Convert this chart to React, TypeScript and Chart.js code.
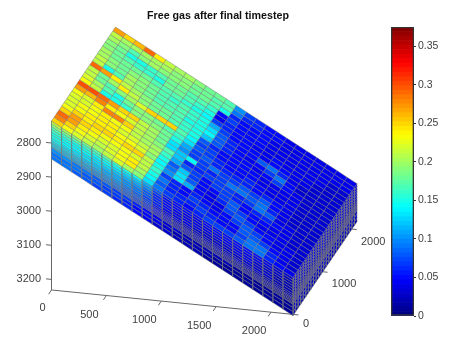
import React, { useEffect, useRef } from "react";
import { Chart, registerables } from "chart.js";

Chart.register(...registerables);

const titleText = "Free gas after final timestep";
const xTicks = [0, 500, 1000, 1500, 2000];
const yTicks = [0, 1000, 2000];
const zTicks = [2800, 2900, 3000, 3100, 3200];
const cbTickStep = 0.05;
const cbMax = 0.375;
const FONT = "'Liberation Sans', Arial, sans-serif";
const TEXT = "#404040";

const xMax = 2200;
const yMax = 2200;
const zTop = 2735.5;
const zFloor = 3231;
const dip = 0.1762;

// below-top depth of each layer boundary (m)
const layerDepths = [0, 8, 16, 24, 32, 40, 48, 54, 59, 63, 67, 71, 75, 78, 88, 100, 111.5];

// top surface, row 0 is y = 2200 (back), row 24 is y = 0 (front); in hundredths of saturation
const topSurface = [
  [27,25,26,29,24,21,20,20,19,18,18,17,10,7,6,5,5,4,4,4,4,4,4,4],
  [21,20,20,20,20,20,19,19,18,18,17,17,9,6,6,5,5,4,4,4,4,4,4,4],
  [20,19,17,19,20,19,19,19,18,18,17,15,6,5,5,5,4,4,4,4,4,4,4,4],
  [19,18,15,15,16,17,18,18,17,17,16,5,7,5,5,5,4,4,4,4,4,4,3,3],
  [19,18,17,16,16,15,18,18,17,16,15,4,6,5,5,5,4,4,4,4,4,4,3,3],
  [20,18,18,18,18,17,17,17,16,15,14,7,6,5,5,4,4,5,4,4,4,3,3,3],
  [20,19,18,19,19,18,17,16,17,16,15,11,7,5,5,5,4,5,5,4,4,3,3,3],
  [21,19,18,20,19,18,17,17,17,16,15,13,8,6,5,5,8,9,6,4,3,3,3,3],
  [21,15,17,20,19,18,17,17,17,15,15,14,8,6,5,4,5,7,9,5,3,3,3,3],
  [29,27,24,21,20,19,18,18,17,16,15,12,8,6,5,5,4,5,7,5,4,3,3,3],
  [21,18,20,24,21,19,18,18,17,16,15,8,6,5,5,5,5,4,4,4,4,3,3,3],
  [21,18,17,19,20,22,25,25,25,17,14,7,7,5,5,5,5,4,4,4,4,3,3,3],
  [22,20,17,15,18,19,19,18,17,16,13,8,7,6,5,5,6,5,4,4,4,3,3,3],
  [23,21,15,15,16,19,19,19,18,15,11,7,8,6,6,6,6,5,6,5,4,3,3,3],
  [30,30,29,27,25,25,21,20,18,13,10,7,7,9,7,7,8,7,8,5,4,3,3,3],
  [27,26,28,24,23,22,21,20,18,13,12,14,7,6,7,9,9,8,9,6,4,3,3,3],
  [23,22,24,28,28,25,21,20,19,17,12,6,6,7,7,7,6,7,9,8,4,4,3,3],
  [22,22,23,24,23,23,21,20,20,16,11,8,7,5,7,7,6,5,6,6,5,4,3,3],
  [22,23,23,24,24,22,22,21,20,15,8,12,7,5,5,7,8,5,5,5,4,4,3,3],
  [22,23,24,24,24,23,23,22,19,14,9,13,8,5,4,6,8,7,5,4,4,4,3,3],
  [23,25,24,25,25,24,25,25,21,15,10,13,11,5,4,4,7,8,7,5,5,4,4,3],
  [25,27,25,24,23,23,23,22,21,16,7,6,5,6,5,4,5,7,8,7,5,4,4,3],
  [29,27,24,23,22,22,23,24,21,15,9,6,5,7,6,5,5,5,8,8,7,5,4,3],
  [28,25,23,22,21,22,23,24,20,14,8,6,6,6,7,6,5,5,7,9,9,6,4,3],
  [25,23,22,21,20,21,22,20,19,13,9,7,6,5,6,7,7,7,8,9,9,6,5,4],
];

// front face (y = 0), one row per layer from the top
const frontFace = [
  [21,20,19,18,17,17,16,15,14,11,8,6,5,5,5,5,5,5,5,5,5,4,3,3],
  [19,18,17,16,16,15,14,13,12,10,7,5,5,5,4,5,5,5,5,5,4,4,3,2],
  [17,16,15,15,14,14,13,12,11,9,6,5,5,4,4,4,4,4,4,4,4,3,3,2],
  [16,15,14,14,13,13,12,11,10,8,6,5,4,4,4,4,4,4,4,4,3,3,2,2],
  [15,14,14,13,13,12,11,10,9,8,6,5,4,4,4,3,3,3,4,4,3,3,2,2],
  [15,14,13,13,12,11,11,10,9,7,6,4,4,4,3,3,3,3,3,3,3,3,2,2],
  [14,13,13,12,12,11,10,9,8,7,5,4,4,3,3,3,3,3,3,3,3,2,2,2],
  [14,13,12,12,11,10,10,9,8,7,5,4,3,3,3,3,3,3,3,3,2,2,2,2],
  [13,13,12,11,11,10,9,8,8,6,5,4,3,3,3,3,3,3,3,2,2,2,2,2],
  [13,12,12,11,10,10,9,8,7,6,5,4,3,3,3,3,3,2,2,2,2,2,2,1],
  [13,12,11,11,10,9,9,8,7,6,5,4,3,3,3,2,2,2,2,2,2,2,1,1],
  [12,12,11,10,10,9,8,8,7,6,4,4,3,3,2,2,2,2,2,2,2,1,1,1],
  [11,11,10,10,9,9,8,7,6,5,4,3,3,2,2,2,2,2,2,2,1,1,1,1],
  [10,10,9,9,8,8,7,7,6,5,4,3,3,2,2,2,2,2,1,1,1,1,1,1],
  [9,9,9,8,8,7,7,6,5,5,4,3,2,2,2,2,1,1,1,1,1,1,1,1],
  [9,9,8,8,7,7,6,6,5,4,3,3,2,2,2,1,1,1,1,1,1,1,1,1],
];

// right face (x = 2200), one value per layer
const rightFace = [4,4,4,4,4,3,3,3,3,3,3,3,3,3,3,2];

const jet = (v: number) => {
  const t = Math.min(1, Math.max(0, v / cbMax));
  const c = (a: number) => Math.round(255 * Math.min(1, Math.max(0, 1.5 - Math.abs(4 * t - a))));
  return `rgb(${c(3)},${c(2)},${c(1)})`;
};

// oblique projection of (x, y, z) onto the drawing plane
const project = (x: number, y: number, z: number) => ({
  x: 51.5 + 0.10977 * x + 0.0291 * y,
  y: 143 + 0.341 * (z - 2800) + 0.0111 * x - 0.0427 * y,
});

const edgeX = (i: number) => (i * xMax) / topSurface[0].length;
const edgeY = (j: number) => yMax - (j * yMax) / topSurface.length;
const surf = (x: number) => zTop + dip * x;

const poly = (pts: any[], value: number) => ({
  data: [...pts, pts[0]],
  showLine: true,
  fill: "shape",
  backgroundColor: jet(value / 100),
  borderColor: "rgba(120,120,120,0.8)",
  borderWidth: 0.6,
  pointRadius: 0,
  tension: 0,
  clip: false,
});

const stroke = (pts: any[]) => ({
  data: pts,
  showLine: true,
  fill: false,
  borderColor: "#666666",
  borderWidth: 1,
  pointRadius: 0,
  tension: 0,
  clip: false,
});

const buildDatasets = () => {
  const out: any[] = [];
  topSurface.forEach((row, j) =>
    row.forEach((v, i) => {
      const x0 = edgeX(i), x1 = edgeX(i + 1), y0 = edgeY(j), y1 = edgeY(j + 1);
      out.push(poly([project(x0, y0, surf(x0)), project(x1, y0, surf(x1)), project(x1, y1, surf(x1)), project(x0, y1, surf(x0))], v));
    })
  );
  frontFace.forEach((row, k) =>
    row.forEach((v, i) => {
      const x0 = edgeX(i), x1 = edgeX(i + 1), d0 = layerDepths[k], d1 = layerDepths[k + 1];
      out.push(poly([project(x0, 0, surf(x0) + d0), project(x1, 0, surf(x1) + d0), project(x1, 0, surf(x1) + d1), project(x0, 0, surf(x0) + d1)], v));
    })
  );
  rightFace.forEach((v, k) => {
    topSurface.forEach((_, j) => {
      const y0 = edgeY(j), y1 = edgeY(j + 1), s = surf(xMax), d0 = layerDepths[k], d1 = layerDepths[k + 1];
      out.push(poly([project(xMax, y0, s + d0), project(xMax, y1, s + d0), project(xMax, y1, s + d1), project(xMax, y0, s + d1)], v));
    });
  });
  // axes go last so that they are painted underneath the block
  out.push(stroke([project(0, 0, zFloor), project(xMax, 0, zFloor)]));
  out.push(stroke([project(0, 0, zFloor), project(0, 0, zTop)]));
  xTicks.forEach((t) => out.push(stroke([project(t, 0, zFloor), project(t, -100, zFloor)])));
  yTicks.forEach((t) => out.push(stroke([project(xMax, t, zFloor), project(xMax + 50, t, zFloor)])));
  zTicks.forEach((t) => out.push(stroke([project(0, 0, t), project(-50, 0, t)])));
  return out;
};

const tickText = {
  id: "tickText",
  afterDraw(chart: any) {
    const { ctx, scales } = chart;
    const at = (p: any) => [scales.x.getPixelForValue(p.x), scales.y.getPixelForValue(p.y)];
    ctx.save();
    ctx.font = `11px ${FONT}`;
    ctx.fillStyle = TEXT;
    ctx.textBaseline = "middle";
    ctx.textAlign = "center";
    xTicks.forEach((t) => {
      const [px, py] = at(project(t, 0, zFloor));
      ctx.fillText(String(t), px - (t === 0 ? 9 : 17), py + (t === 0 ? 18 : 19));
    });
    yTicks.forEach((t) => {
      const [px, py] = at(project(xMax, t, zFloor));
      ctx.fillText(String(t), px + (t === 0 ? 13 : 22), py + (t === 0 ? 10 : 12.5));
    });
    ctx.textAlign = "right";
    zTicks.forEach((t) => {
      const [px, py] = at(project(0, 0, t));
      ctx.fillText(String(t), px - 10.5, py);
    });
    ctx.restore();
  },
};

export default function App() {
  const blockRef = useRef<HTMLCanvasElement>(null);
  const barRef = useRef<HTMLCanvasElement>(null);

  useEffect(() => {
    const block = new Chart(blockRef.current as any, {
      type: "scatter",
      data: { datasets: buildDatasets() },
      plugins: [tickText],
      options: {
        responsive: false,
        animation: false,
        events: [],
        parsing: false,
        layout: { padding: { left: 46, right: 0, top: 0, bottom: 0 } },
        plugins: {
          legend: { display: false },
          tooltip: { enabled: false },
          title: {
            display: true,
            text: titleText,
            color: "#111111",
            font: { family: FONT, size: 10.7, weight: "bold" },
            padding: { top: 10, bottom: 3.16 },
          },
        },
        scales: {
          x: { type: "linear", display: false, min: 46, max: 390 },
          y: { type: "linear", display: false, min: 26, max: 355, reverse: true },
        },
      } as any,
    } as any);

    const levels = Array.from({ length: 64 }, (_, i) => i);
    const barSets: any[] = levels.map((i) => ({
      data: [[(i * cbMax) / 64, ((i + 1) * cbMax) / 64]],
      backgroundColor: jet(((i + 0.5) * cbMax) / 64),
      borderWidth: 0,
      grouped: false,
      barPercentage: 1,
      categoryPercentage: 1,
      order: 2,
    }));
    barSets.push({
      data: [[0, cbMax]],
      backgroundColor: "rgba(0,0,0,0)",
      borderColor: "#333333",
      borderWidth: 1,
      grouped: false,
      barPercentage: 1,
      categoryPercentage: 1,
      borderSkipped: false,
      order: 1,
    });
    const bar = new Chart(barRef.current as any, {
      type: "bar",
      data: { labels: [""], datasets: barSets },
      options: {
        responsive: false,
        animation: false,
        events: [],
        layout: { padding: { left: 6, right: 0, top: 27, bottom: 39 } },
        plugins: { legend: { display: false }, tooltip: { enabled: false } },
        scales: {
          x: { display: false },
          y: {
            position: "right",
            min: 0,
            max: cbMax,
            afterFit: (s: any) => {
              s.width = 60;
            },
            border: { display: false },
            grid: { drawOnChartArea: false, tickLength: 2, tickColor: "#333333" },
            ticks: {
              stepSize: cbTickStep,
              includeBounds: false,
              padding: 2,
              color: TEXT,
              font: { family: FONT, size: 10.5 },
              callback: (v: any) => String(Math.round(v * 100) / 100),
            },
          },
        },
      } as any,
    } as any);

    return () => {
      block.destroy();
      bar.destroy();
    };
  }, []);

  return (
    <div style={{ position: "fixed", left: 0, top: 0, width: 474, height: 355, background: "#fff" }}>
      <canvas ref={blockRef} width={390} height={355} style={{ position: "absolute", left: 0, top: 0 }} />
      <canvas ref={barRef} width={89} height={355} style={{ position: "absolute", left: 385, top: 0 }} />
    </div>
  );
}
